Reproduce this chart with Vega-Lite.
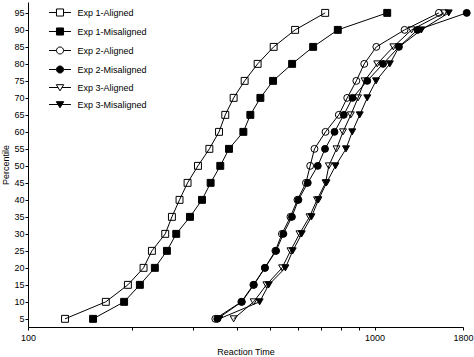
{
  "$schema": "https://vega.github.io/schema/vega-lite/v6.json",
  "width": 435,
  "height": 325,
  "autosize": {"type": "none"},
  "padding": {"left": 28, "top": 2, "right": 11, "bottom": 30},
  "background": "white",
  "config": {
    "view": {"stroke": null},
    "font": "Liberation Sans",
    "axis": {
      "grid": false,
      "domainColor": "black",
      "domainWidth": 1,
      "tickColor": "black",
      "tickWidth": 1,
      "tickSize": 3,
      "labelColor": "black",
      "labelFontSize": 9,
      "titleColor": "black",
      "titleFontSize": 9,
      "titleFontWeight": "normal"
    }
  },
  "data": {
    "values": [
      {"p": 5, "Exp 1-Aligned": 127.9, "Exp 1-Misaligned": 154.1, "Exp 2-Aligned": 347.2, "Exp 2-Misaligned": 351.8, "Exp 3-Aligned": 392.1, "Exp 3-Misaligned": 356.5},
      {"p": 10, "Exp 1-Aligned": 167.7, "Exp 1-Misaligned": 189.4, "Exp 2-Aligned": 412.7, "Exp 2-Misaligned": 414.1, "Exp 3-Aligned": 447.9, "Exp 3-Misaligned": 466.1},
      {"p": 15, "Exp 1-Aligned": 194.2, "Exp 1-Misaligned": 210.3, "Exp 2-Aligned": 447.0, "Exp 2-Misaligned": 448.5, "Exp 3-Aligned": 487.5, "Exp 3-Misaligned": 495.0},
      {"p": 20, "Exp 1-Aligned": 215.5, "Exp 1-Misaligned": 232.3, "Exp 2-Aligned": 482.7, "Exp 2-Misaligned": 482.7, "Exp 3-Aligned": 541.1, "Exp 3-Misaligned": 553.1},
      {"p": 25, "Exp 1-Aligned": 227.8, "Exp 1-Misaligned": 251.7, "Exp 2-Aligned": 517.5, "Exp 2-Misaligned": 519.9, "Exp 3-Aligned": 571.9, "Exp 3-Misaligned": 580.7},
      {"p": 30, "Exp 1-Aligned": 248.9, "Exp 1-Misaligned": 267.8, "Exp 2-Aligned": 540.4, "Exp 2-Misaligned": 545.8, "Exp 3-Aligned": 607.2, "Exp 3-Misaligned": 616.5},
      {"p": 35, "Exp 1-Aligned": 260.2, "Exp 1-Misaligned": 293.4, "Exp 2-Aligned": 571.9, "Exp 2-Misaligned": 577.6, "Exp 3-Aligned": 649.0, "Exp 3-Misaligned": 657.7},
      {"p": 40, "Exp 1-Aligned": 273.7, "Exp 1-Misaligned": 317.8, "Exp 2-Aligned": 599.1, "Exp 2-Misaligned": 603.1, "Exp 3-Aligned": 682.2, "Exp 3-Misaligned": 689.0},
      {"p": 45, "Exp 1-Aligned": 288.7, "Exp 1-Misaligned": 336.5, "Exp 2-Aligned": 634.0, "Exp 2-Misaligned": 641.6, "Exp 3-Aligned": 722.0, "Exp 3-Misaligned": 726.8},
      {"p": 50, "Exp 1-Aligned": 309.4, "Exp 1-Misaligned": 358.8, "Exp 2-Aligned": 652.0, "Exp 2-Misaligned": 685.8, "Exp 3-Aligned": 738.0, "Exp 3-Misaligned": 771.6},
      {"p": 55, "Exp 1-Aligned": 333.7, "Exp 1-Misaligned": 380.2, "Exp 2-Aligned": 670.9, "Exp 2-Misaligned": 719.6, "Exp 3-Aligned": 776.7, "Exp 3-Misaligned": 827.3},
      {"p": 60, "Exp 1-Aligned": 355.8, "Exp 1-Misaligned": 418.3, "Exp 2-Aligned": 722.0, "Exp 2-Misaligned": 766.4, "Exp 3-Aligned": 811.0, "Exp 3-Misaligned": 862.2},
      {"p": 65, "Exp 1-Aligned": 370.9, "Exp 1-Misaligned": 438.2, "Exp 2-Aligned": 788.7, "Exp 2-Misaligned": 815.3, "Exp 3-Aligned": 854.2, "Exp 3-Misaligned": 906.4},
      {"p": 70, "Exp 1-Aligned": 392.1, "Exp 1-Misaligned": 468.4, "Exp 2-Aligned": 834.0, "Exp 2-Misaligned": 863.9, "Exp 3-Aligned": 896.1, "Exp 3-Misaligned": 952.7},
      {"p": 75, "Exp 1-Aligned": 421.9, "Exp 1-Misaligned": 509.5, "Exp 2-Aligned": 886.1, "Exp 2-Misaligned": 952.7, "Exp 3-Aligned": 935.7, "Exp 3-Misaligned": 1010},
      {"p": 80, "Exp 1-Aligned": 459.9, "Exp 1-Misaligned": 578.3, "Exp 2-Aligned": 933.9, "Exp 2-Misaligned": 1058, "Exp 3-Aligned": 1018, "Exp 3-Misaligned": 1107},
      {"p": 85, "Exp 1-Aligned": 511.6, "Exp 1-Misaligned": 665.0, "Exp 2-Aligned": 1012, "Exp 2-Misaligned": 1176, "Exp 3-Aligned": 1133, "Exp 3-Misaligned": 1177},
      {"p": 90, "Exp 1-Aligned": 589.9, "Exp 1-Misaligned": 783.4, "Exp 2-Aligned": 1221, "Exp 2-Misaligned": 1331, "Exp 3-Aligned": 1279, "Exp 3-Misaligned": 1365},
      {"p": 95, "Exp 1-Aligned": 720.4, "Exp 1-Misaligned": 1088, "Exp 2-Aligned": 1534, "Exp 2-Misaligned": 1845, "Exp 3-Aligned": 1586, "Exp 3-Misaligned": 1637}
    ]
  },
  "transform": [
    {"fold": ["Exp 1-Aligned", "Exp 1-Misaligned", "Exp 2-Aligned", "Exp 2-Misaligned", "Exp 3-Aligned", "Exp 3-Misaligned"], "as": ["s", "rt"]}
  ],
  "encoding": {
    "x": {
      "field": "rt",
      "type": "quantitative",
      "scale": {"type": "log", "domain": [100, 1800]},
      "axis": {
        "title": "Reaction Time",
        "values": [100, 200, 300, 400, 500, 600, 700, 800, 900, 1000, 1800],
        "labelExpr": "indexof([100, 1000, 1800], datum.value) >= 0 ? format(datum.value, 'd') : ''",
        "labelFlush": false,
        "labelOverlap": false,
        "labelPadding": 3,
        "titlePadding": 5
      }
    },
    "y": {
      "field": "p",
      "type": "quantitative",
      "scale": {"domain": [2.6, 98.2], "nice": false, "zero": false},
      "axis": {
        "title": "Percentile",
        "values": [5, 10, 15, 20, 25, 30, 35, 40, 45, 50, 55, 60, 65, 70, 75, 80, 85, 90, 95],
        "labelPadding": 1,
        "titlePadding": 3
      }
    }
  },
  "layer": [
    {
      "mark": {"type": "line", "color": "black", "strokeWidth": 1},
      "encoding": {"detail": {"field": "s"}, "order": {"field": "p"}}
    },
    {
      "mark": {"type": "point", "filled": true, "opacity": 1, "stroke": "black", "strokeWidth": 1, "size": 48},
      "encoding": {
        "shape": {
          "field": "s",
          "type": "nominal",
          "scale": {
            "domain": ["Exp 1-Aligned", "Exp 1-Misaligned", "Exp 2-Aligned", "Exp 2-Misaligned", "Exp 3-Aligned", "Exp 3-Misaligned"],
            "range": ["square", "square", "circle", "circle", "triangle-down", "triangle-down"]
          },
          "legend": null
        },
        "fill": {
          "field": "s",
          "type": "nominal",
          "scale": {
            "domain": ["Exp 1-Aligned", "Exp 1-Misaligned", "Exp 2-Aligned", "Exp 2-Misaligned", "Exp 3-Aligned", "Exp 3-Misaligned"],
            "range": ["transparent", "black", "transparent", "black", "transparent", "black"]
          },
          "legend": null
        }
      }
    },
    {
      "transform": [{"filter": "datum.p < 0"}],
      "mark": {"type": "point", "filled": true, "opacity": 1, "stroke": "black", "strokeWidth": 1, "size": 48},
      "encoding": {
        "shape": {
          "field": "s",
          "type": "nominal",
          "scale": {
            "domain": ["Exp 1-Aligned", "Exp 1-Misaligned", "Exp 2-Aligned", "Exp 2-Misaligned", "Exp 3-Aligned", "Exp 3-Misaligned"],
            "range": [
              "M-3.1,0H-1M1,0H3.1M-1,-1H1V1H-1Z",
              "M-3.1,0H-1M1,0H3.1M-1,-1H1V1H-1Z",
              "M-3.1,0H-1M1,0H3.1M-1,0A1,1,0,1,0,1,0A1,1,0,1,0,-1,0Z",
              "M-3.1,0H-1M1,0H3.1M-1,0A1,1,0,1,0,1,0A1,1,0,1,0,-1,0Z",
              "M-3.1,0H-0.53M0.53,0H3.1M-1.05,-0.8H1.05L0,0.95Z",
              "M-3.1,0H-0.53M0.53,0H3.1M-1.05,-0.8H1.05L0,0.95Z"
            ]
          },
          "legend": {
            "title": null,
            "orient": "none",
            "legendX": 27.5,
            "legendY": 6,
            "padding": 0,
            "symbolSize": 50,
            "symbolStrokeWidth": 1,
            "labelFontSize": 9,
            "labelColor": "black",
            "labelOffset": 13,
            "rowPadding": 6
          }
        },
        "fill": {
          "field": "s",
          "type": "nominal",
          "scale": {
            "domain": ["Exp 1-Aligned", "Exp 1-Misaligned", "Exp 2-Aligned", "Exp 2-Misaligned", "Exp 3-Aligned", "Exp 3-Misaligned"],
            "range": ["transparent", "black", "transparent", "black", "transparent", "black"]
          },
          "legend": null
        }
      }
    }
  ],
  "resolve": {
    "scale": {"shape": "independent", "fill": "independent"},
    "legend": {"shape": "independent", "fill": "independent"}
  }
}
